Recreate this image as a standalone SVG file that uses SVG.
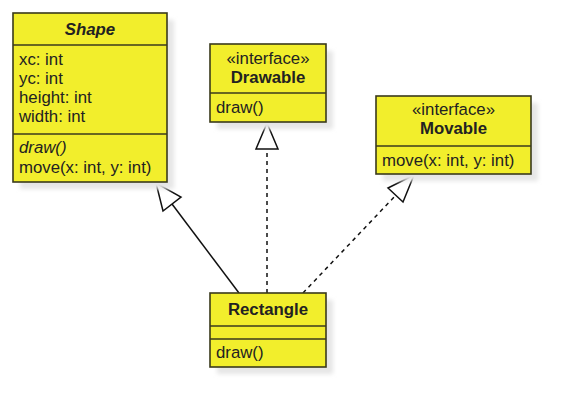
<svg xmlns="http://www.w3.org/2000/svg" width="582" height="419" viewBox="0 0 582 419">
<defs>
<style>
.shadow{fill:#e6e6e6;}
.box{fill:#f2ee2c;stroke:#3a3a1c;stroke-width:1.6;}
.div{stroke:#3a3a1c;stroke-width:1.6;}
.t{font-family:"Liberation Sans",Arial,sans-serif;font-size:16.8px;fill:#222;}
.b{font-weight:bold;}
.i{font-style:italic;}
.c{text-anchor:middle;}
.line{stroke:#111;stroke-width:1.5;fill:none;}
.dash{stroke-dasharray:4,4;}
.head{fill:#fff;stroke:#111;stroke-width:1.5;}
</style>
<filter id="blur" x="-10%" y="-10%" width="130%" height="130%"><feGaussianBlur stdDeviation="2"/></filter>
</defs>
<rect width="582" height="419" fill="#fff"/>
<g id="connectors">
<line class="line" x1="239" y1="293" x2="172" y2="204"/>
<polygon class="head" points="156,183 163,211 181,197"/>
<line class="line dash" x1="267" y1="293" x2="267" y2="149"/>
<polygon class="head" points="267,123 256,149 278,149"/>
<line class="line dash" x1="303" y1="293" x2="396" y2="195"/>
<polygon class="head" points="414,175 388,188 403,202"/>
</g>
<g id="Shape">
<rect class="shadow" x="20" y="20" width="154" height="169" filter="url(#blur)"/>
<rect class="box" x="13" y="13" width="154" height="169"/>
<line class="div" x1="13" y1="45" x2="167" y2="45"/>
<line class="div" x1="13" y1="134" x2="167" y2="134"/>
<text class="t b i c" x="90" y="35">Shape</text>
<text class="t" x="19" y="65">xc: int</text>
<text class="t" x="19" y="84">yc: int</text>
<text class="t" x="19" y="103">height: int</text>
<text class="t" x="19" y="122">width: int</text>
<text class="t i" x="19" y="153">draw()</text>
<text class="t" x="19" y="173">move(x: int, y: int)</text>
</g>
<g id="Drawable">
<rect class="shadow" x="217" y="51" width="116" height="78" filter="url(#blur)"/>
<rect class="box" x="210" y="44" width="116" height="78"/>
<line class="div" x1="210" y1="93" x2="326" y2="93"/>
<text class="t c" x="268" y="64">«interface»</text>
<text class="t b c" x="268" y="83">Drawable</text>
<text class="t" x="216" y="113">draw()</text>
</g>
<g id="Movable">
<rect class="shadow" x="383" y="103" width="155" height="78" filter="url(#blur)"/>
<rect class="box" x="376" y="96" width="155" height="78"/>
<line class="div" x1="376" y1="146" x2="531" y2="146"/>
<text class="t c" x="453.500" y="115">«interface»</text>
<text class="t b c" x="453.500" y="134">Movable</text>
<text class="t" x="382" y="166">move(x: int, y: int)</text>
</g>
<g id="Rectangle">
<rect class="shadow" x="217" y="300" width="116" height="74" filter="url(#blur)"/>
<rect class="box" x="210" y="293" width="116" height="74"/>
<line class="div" x1="210" y1="326" x2="326" y2="326"/>
<line class="div" x1="210" y1="339" x2="326" y2="339"/>
<text class="t b c" x="268" y="315">Rectangle</text>
<text class="t" x="216" y="358">draw()</text>
</g>
</svg>
